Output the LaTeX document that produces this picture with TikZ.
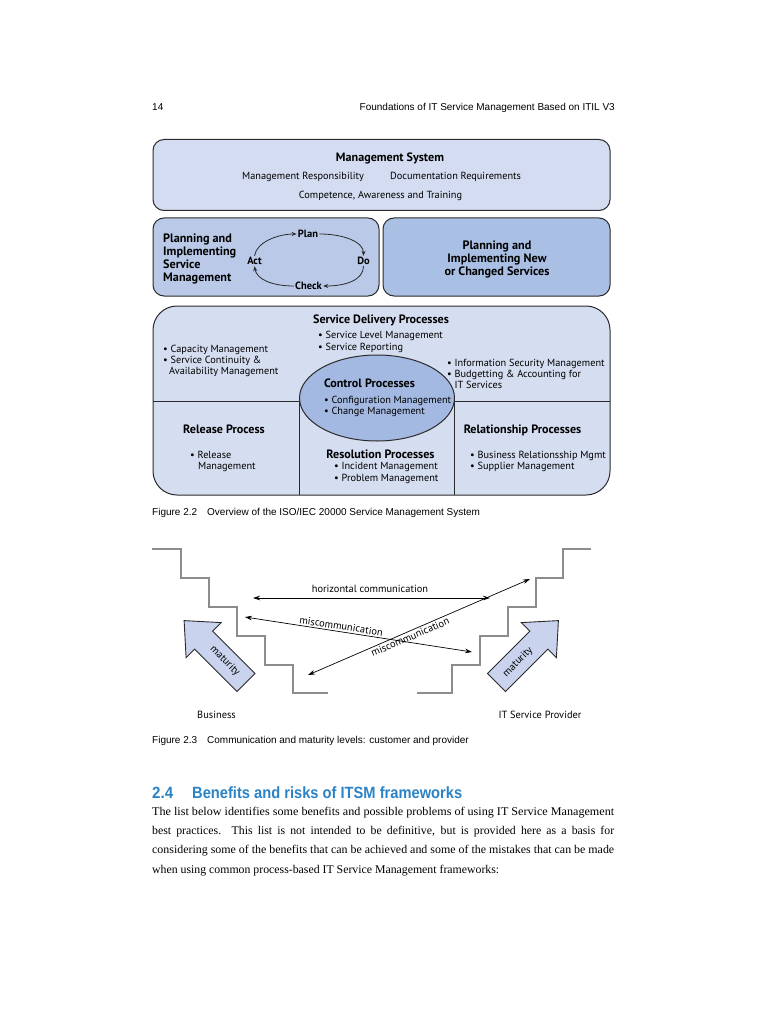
\documentclass[tikz,border=0pt]{standalone}
\usepackage{fontspec}
\usepackage{graphicx}
\setmainfont{Liberation Serif}
\newfontfamily\dfont{PT Sans}
\newfontfamily\hfont{Liberation Sans}
\usetikzlibrary{arrows.meta,shapes.geometric}
\definecolor{msfill}{HTML}{D3DCF0}
\definecolor{pfillA}{HTML}{B9C9E7}
\definecolor{pfillB}{HTML}{A9BFE3}
\definecolor{bigfill}{HTML}{D5DDF0}
\definecolor{ellfill}{HTML}{A3B9E1}
\definecolor{matfill}{HTML}{C9D3EE}
\definecolor{edge}{HTML}{2B2B2B}
\definecolor{stair}{HTML}{8C8C8C}
\definecolor{headblue}{HTML}{2A83C6}
\begin{document}
\begin{tikzpicture}[x=1pt,y=-1pt,
  every node/.style={inner sep=0pt},
  dreg/.style={font=\dfont\fontsize{10.3}{12}\selectfont, anchor=base west},
  dregc/.style={font=\dfont\fontsize{10.3}{12}\selectfont, anchor=base},
  dbold/.style={font=\dfont\bfseries\fontsize{12.1}{13}\selectfont, anchor=base},
  pbold/.style={font=\dfont\bfseries\fontsize{12.2}{13}\selectfont, anchor=base west},
  pboldc/.style={font=\dfont\bfseries\fontsize{12.2}{13}\selectfont, anchor=base},
  cyc/.style={font=\dfont\bfseries\fontsize{10.5}{11}\selectfont, inner sep=1.2pt},
  captext/.style={font=\hfont\fontsize{10}{12}\selectfont, anchor=base west},
  lab/.style={font=\dfont\fontsize{10.4}{12}\selectfont},
  boxline/.style={draw=edge, line width=1pt},
  cycarrow/.style={draw=edge, line width=0.8pt, -{Stealth[length=5pt,width=4pt]}},
  comarrow/.style={draw=black, line width=0.7pt, {Stealth[length=7pt,width=4.5pt]}-{Stealth[length=7pt,width=4.5pt]}},
  stairline/.style={draw=stair, line width=1.4pt},
  matarrow/.style={draw=edge, line width=0.9pt, fill=matfill},
  body/.style={font=\fontsize{11.8}{14}\selectfont, anchor=base west}]
\useasboundingbox[fill=white] (0,0) rectangle (768,1024);

% header
\node[captext] (pg) at (152,111) {14};
\node[captext, anchor=base east] (rt) at (615,111) {Foundations of IT Service Management Based on ITIL V3};

% Management system box
\node[boxline, fill=msfill, rounded corners=11pt, minimum width=457pt, minimum height=71pt] (ms) at (381.5,175) {};
\node[dbold] (msT) at (390,161.5) {Management System};
\node[dreg] (ms1) at (242,179.5) {Management Responsibility};
\node[dreg] (ms2) at (390,179.5) {Documentation Requirements};
\node[dregc] (ms3) at (380.5,199) {Competence, Awareness and Training};

% planning boxes
\node[boxline, fill=pfillA, rounded corners=11pt, minimum width=226pt, minimum height=78pt] (pa) at (266,257) {};
\node[boxline, fill=pfillB, rounded corners=11pt, minimum width=227pt, minimum height=78pt] (pb) at (496.5,257) {};
\node[pbold] (pa1) at (163,243) {Planning and};
\node[pbold] (pa2) at (163,255.7) {Implementing};
\node[pbold] (pa3) at (163,268.4) {Service};
\node[pbold] (pa4) at (163,281) {Management};
\node[pboldc] (pb1) at (497,249) {Planning and};
\node[pboldc] (pb2) at (497,262) {Implementing New};
\node[pboldc] (pb3) at (497,275) {or Changed Services};

% PDCA cycle
\node[cyc] (plan) at (308,234) {Plan};
\node[cyc] (do) at (363.5,261) {Do};
\node[cyc] (check) at (308.5,286) {Check};
\node[cyc] (act) at (254.5,261) {Act};
\draw[cycarrow] (act.north) .. controls +(2,-14) and +(-18,0) .. (plan.west);
\draw[cycarrow] (plan.east) .. controls +(24,0) and +(0,-14) .. (do.north);
\draw[cycarrow] (do.south) .. controls +(0,14) and +(22,0) .. (check.east);
\draw[cycarrow] (check.west) .. controls +(-22,0) and +(2,13) .. (act.south);

% big process box
\draw[boxline, fill=bigfill, rounded corners=24pt] (153,306) rectangle (610,495);
\draw[boxline] (153,401) -- (300,401) (454,401) -- (610,401)
  (299.5,401) -- (299.5,495) (454.5,401) -- (454.5,495);
\node[boxline, fill=ellfill, ellipse, minimum width=155pt, minimum height=86pt] (ctrl) at (377,398) {};

\node[dbold] (sdT) at (381,323) {Service Delivery Processes};
\node[dreg] (sd1) at (318,338) {• Service Level Management};
\node[dreg] (sd2) at (318,350) {• Service Reporting};
\node[dreg] (cp1) at (163,352) {• Capacity Management};
\node[dreg] (cp2) at (163,363) {• Service Continuity \&};
\node[dreg] (cp3) at (169,374) {Availability Management};
\node[dreg] (is1) at (447,366) {• Information Security Management};
\node[dreg] (is2) at (447,377) {• Budgetting \& Accounting for};
\node[dreg] (is3) at (454.5,388) {IT Services};
\node[dbold] (ctT) at (369.5,387) {Control Processes};
\node[dreg] (ct1) at (324,403) {• Configuration Management};
\node[dreg] (ct2) at (324,414) {• Change Management};
\node[dbold] (rlT) at (224,433) {Release Process};
\node[dreg] (rl1) at (190,458) {• Release};
\node[dreg] (rl2) at (198,469) {Management};
\node[dbold] (rsT) at (380.5,458) {Resolution Processes};
\node[dreg] (rs1) at (334,469) {• Incident Management};
\node[dreg] (rs2) at (334,481) {• Problem Management};
\node[dbold] (rpT) at (522.5,433) {Relationship Processes};
\node[dreg] (rp1) at (470,458) {• Business Relationsship Mgmt};
\node[dreg] (rp2) at (470,469) {• Supplier Management};

% caption 2.2
\node[captext] (c2a) at (152,515) {Figure 2.2};
\node[captext] (c2b) at (207,515) {Overview of the ISO/IEC 20000 Service Management System};

% Figure 2.3 stairs
\draw[stairline] (152,549) -- (181,549) -- (181,578) -- (209,578) -- (209,607) -- (237,607)
  -- (237,636) -- (265,636) -- (265,665) -- (293,665) -- (293,693) -- (328,693);
\draw[stairline] (417,693) -- (452,693) -- (452,665) -- (480,665) -- (480,636) -- (508,636)
  -- (508,607) -- (536,607) -- (536,578) -- (563,578) -- (563,549) -- (591,549);

% communication arrows
\coordinate (hL) at (253,598);
\coordinate (hR) at (490,598);
\coordinate (m1L) at (245,617);
\coordinate (m1R) at (472,652);
\coordinate (m2L) at (308,675);
\coordinate (m2R) at (530,579);
\draw[comarrow] (hL) -- (hR);
\node[lab, anchor=base] (hlab) at (370,592) {horizontal communication};
\draw[comarrow] (m1L) -- node[pos=0.42, above=1.5pt, sloped, lab] (m1lab) {miscommunication} (m1R);
\draw[comarrow] (m2L) -- node[pos=0.45, below=1.5pt, sloped, lab] (m2lab) {miscommunication} (m2R);

% maturity arrows
\draw[matarrow] (255,673.5) -- (212.6,631.1) -- (221.1,622.6) -- (184.1,620.6) -- (186.1,657.6)
  -- (194.6,649.1) -- (237,691.5) -- cycle;
\node[lab, rotate=-45] (matL) at (225,661) {maturity};
\draw[matarrow] (487.5,673.5) -- (529.9,631.1) -- (521.4,622.6) -- (558.4,620.6) -- (556.4,657.6)
  -- (547.9,649.1) -- (505.5,691.5) -- cycle;
\node[lab, rotate=45] (matR) at (518,662) {maturity};

\node[lab, anchor=base] (bus) at (216.5,718) {Business};
\node[lab, anchor=base] (itsp) at (540,718) {IT Service Provider};

% caption 2.3
\node[captext] (c3a) at (152,743) {Figure 2.3};
\node[captext] (c3b) at (207,743) {Communication and maturity levels: customer and provider};

% heading
\node[font=\hfont\bfseries\fontsize{16.3}{18}\selectfont, text=headblue, anchor=base west] (h1) at (152,798) {\resizebox{21pt}{\height}{2.4}};
\node[font=\hfont\bfseries\fontsize{16.3}{18}\selectfont, text=headblue, anchor=base west] (h2) at (192,798) {\resizebox{270pt}{\height}{Benefits and risks of ITSM frameworks}};

% body text
\node[body] (b1) at (152,815) {\resizebox{462pt}{\height}{The list below identifies some benefits and possible problems of using IT Service Management}};
\node[body] (b2) at (152,834) {\makebox[462pt][s]{best practices. This list is not intended to be definitive, but is provided here as a basis for}};
\node[body] (b3) at (152,853) {\resizebox{462pt}{\height}{considering some of the benefits that can be achieved and some of the mistakes that can be made}};
\node[body] (b4) at (152,873) {when using common process-based IT Service Management frameworks:};
\end{tikzpicture}
\end{document}
